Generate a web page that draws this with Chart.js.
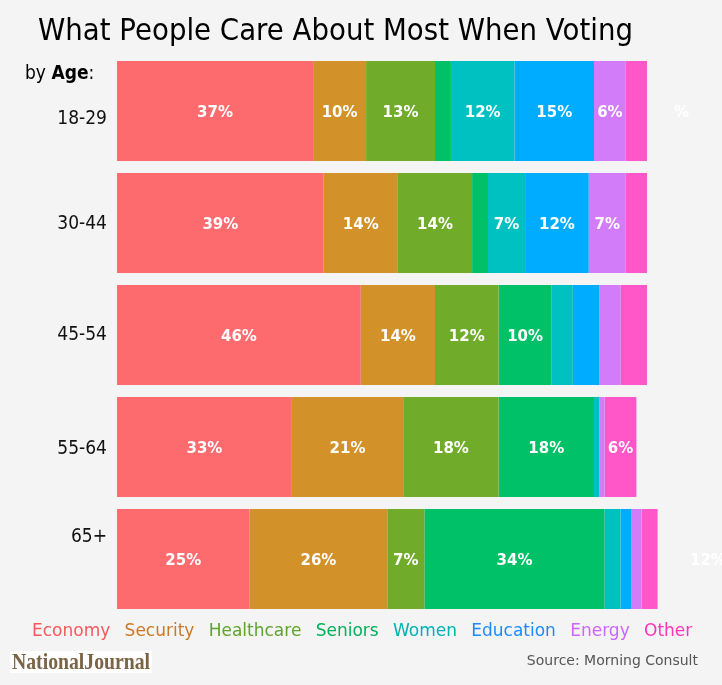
<!DOCTYPE html>
<html>
<head>
<meta charset="utf-8">
<script src="https://cdn.jsdelivr.net/npm/chart.js@4.4.1/dist/chart.umd.min.js"></script>
<style>
  html, body { margin: 0; padding: 0; background: #f4f4f4; }
  #wrap { width: 722px; height: 685px; }
</style>
</head>
<body>
<div id="wrap"><canvas id="votingChart" width="722" height="685"></canvas></div>
<script>
// Share of each age group naming an issue as most important (%)
const ageGroups = ['18-29', '30-44', '45-54', '55-64', '65+'];
const issues = ['Economy', 'Security', 'Healthcare', 'Seniors', 'Women', 'Education', 'Energy', 'Other'];
const economy    = [37, 39, 46, 33, 25];
const security   = [10, 14, 14, 21, 26];
const healthcare = [13, 14, 12, 18, 7];
const seniors    = [3, 3, 10, 18, 34];
const women      = [12, 7, 4, 1, 3];
const education  = [15, 12, 5, 0, 2];
const energy     = [6, 7, 4, 1, 2];
const other      = [4, 4, 5, 6, 3];
const seriesValues = [economy, security, healthcare, seniors, women, education, energy, other];

const barColors  = ['#fe6b6f', '#d39229', '#71ab2a', '#00c068', '#00c1c1', '#00acff', '#d27cf9', '#ff57c8'];
const textColors = ['#f9585b', '#cc7a22', '#5ea32a', '#00b15a', '#00b3b3', '#1a8cff', '#cc66ff', '#ff33bb'];

// stray white labels that sit past the end of two bars in the original
const strayLabels = [
    { age: '18-29', value: 106.5, text: '%' },
    { age: '65+', value: 111.5, text: '12%' }
];

// the original row labels are not quite centred on their bars
const tickNudge = [8, 1.5, 0.5, 2, -22];

const FONT = "'DejaVu Sans', Verdana, sans-serif";

// draw text squeezed horizontally (the original face is narrower than DejaVu)
function squeezed(ctx, text, x, y, sx, align) {
    const w = ctx.measureText(text).width * sx;
    let left = x;
    if (align === 'center') left = x - w / 2;
    if (align === 'right') left = x - w;
    ctx.save();
    ctx.textAlign = 'left';
    ctx.translate(left, y);
    ctx.scale(sx, 1);
    ctx.fillText(text, 0, 0);
    ctx.restore();
    return w;
}

const textPlugin = {
    id: 'textPlugin',
    afterDatasetsDraw: (chart) => {
        const ctx = chart.ctx;
        ctx.save();

        // percentage labels inside the segments
        ctx.font = 'bold 15px ' + FONT;
        ctx.fillStyle = '#ffffff';
        ctx.textAlign = 'center';
        ctx.textBaseline = 'middle';
        chart.data.datasets.forEach((ds, i) => {
            const meta = chart.getDatasetMeta(i);
            meta.data.forEach((bar, j) => {
                const v = ds.data[j];
                if (v < 6) return;
                const p = bar.getCenterPoint();
                ctx.fillText(v + '%', p.x, p.y + 2);
            });
        });
        const xs = chart.scales.x, ys = chart.scales.y;
        strayLabels.forEach(l => {
            ctx.fillText(l.text, xs.getPixelForValue(l.value), ys.getPixelForValue(ageGroups.indexOf(l.age)) + 2);
        });
        ctx.restore();
    },
    afterDraw: (chart) => {
        const ctx = chart.ctx;
        const ys = chart.scales.y;
        ctx.save();
        ctx.textBaseline = 'middle';

        // title
        ctx.fillStyle = '#000';
        ctx.font = '30px ' + FONT;
        const tw = ctx.measureText('What People Care About Most When Voting').width;
        squeezed(ctx, 'What People Care About Most When Voting', 38, 32, 595 / tw, 'left');

        // row labels
        ctx.font = '19px ' + FONT;
        ctx.fillStyle = '#111';
        ageGroups.forEach((g, i) => {
            squeezed(ctx, g, 107, ys.getPixelForValue(i) + tickNudge[i], 0.9, 'right');
        });

        // "by Age:"
        let x = 25;
        ctx.fillStyle = '#000';
        x += squeezed(ctx, 'by ', x, 74, 0.9, 'left');
        ctx.font = 'bold 19px ' + FONT;
        x += squeezed(ctx, 'Age', x, 74, 0.9, 'left');
        ctx.font = '19px ' + FONT;
        squeezed(ctx, ':', x, 74, 0.9, 'left');

        // legend as coloured words
        ctx.font = '17px ' + FONT;
        ctx.textAlign = 'left';
        x = 32;
        issues.forEach((name, i) => {
            ctx.fillStyle = textColors[i];
            ctx.fillText(name, x, 632);
            x += ctx.measureText(name).width + 14.3;
        });

        // logo
        ctx.fillStyle = '#ffffff';
        ctx.fillRect(10, 651, 142, 22);
        ctx.font = "bold 23px 'Liberation Serif', serif";
        ctx.fillStyle = '#7a6445';
        const lw = ctx.measureText('NationalJournal').width;
        squeezed(ctx, 'NationalJournal', 12, 663, 138 / lw, 'left');

        // source
        ctx.font = '14px ' + FONT;
        ctx.fillStyle = '#555';
        ctx.textAlign = 'right';
        ctx.fillText('Source: Morning Consult', 698, 661);
        ctx.restore();
    }
};

new Chart(document.getElementById('votingChart'), {
    type: 'bar',
    data: {
        labels: ageGroups,
        datasets: issues.map((name, i) => ({
            label: name,
            data: seriesValues[i],
            backgroundColor: barColors[i],
            borderWidth: 0,
            categoryPercentage: 1,
            barPercentage: 0.893
        }))
    },
    options: {
        indexAxis: 'y',
        responsive: false,
        animation: false,
        devicePixelRatio: 1,
        layout: { padding: { left: 0, right: 22, top: 55, bottom: 70 } },
        plugins: {
            legend: { display: false },
            title: { display: false },
            tooltip: { enabled: false }
        },
        scales: {
            x: { stacked: true, min: 0, max: 110, display: false },
            y: {
                stacked: true,
                grid: { display: false },
                border: { display: false },
                ticks: { display: false },
                afterFit: (scale) => { scale.width = 117; }
            }
        }
    },
    plugins: [textPlugin]
});
</script>
</body>
</html>
